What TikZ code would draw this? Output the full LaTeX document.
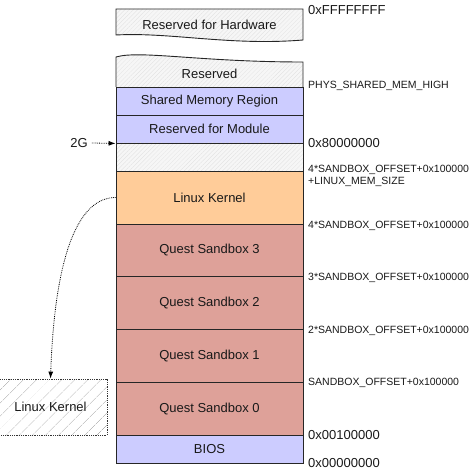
\documentclass[tikz,border=0pt]{standalone}
\usepackage{fontspec}
\setmainfont{Liberation Sans}
\usetikzlibrary{patterns.meta,arrows.meta}
\definecolor{lavender}{HTML}{CCCCFF}
\definecolor{kernelc}{HTML}{FFCC99}
\definecolor{sandboxc}{HTML}{DEA199}
\definecolor{hatchbg}{HTML}{F6F6F6}
\newcommand{\bigtxt}{\fontsize{13bp}{15bp}\selectfont}
\newcommand{\smalltxt}{\fontsize{10.5bp}{12.5bp}\selectfont}
\tikzset{
  region/.style={draw=black!85, line width=0.9bp},
  block/.style={region, minimum width=187bp, font=\bigtxt},
  hatched/.style={preaction={fill=hatchbg}, preaction={pattern={Lines[angle=45,distance=3bp,line width=0.3bp]}, pattern color=black!12}},
  addr/.style={anchor=west, font=\bigtxt},
  saddr/.style={anchor=west, font=\smalltxt, align=left},
  ptr/.style={densely dotted, line width=0.8bp, -{Latex[length=7bp,width=5bp]}}
}
\begin{document}
\begin{tikzpicture}[x=1bp,y=-1bp]
\tikzstyle{every node}+=[inner sep=0pt, text=black!90]
\useasboundingbox (0,0) rectangle (474,474);
% top of memory
\draw [region, hatched] (116,9) -- (303,9) -- (303,40) .. controls (230,46) and (170,32) .. (116,35) -- cycle;
\node [font=\bigtxt] (hw) at (209.5,25) {Reserved for Hardware};
\draw [region, hatched] (116,87) -- (116,57) .. controls (140,50) and (200,62) .. (303,62) -- (303,87);
\node [font=\bigtxt] (resv) at (209.5,74) {Reserved};
% regions
\node [block, fill=lavender, minimum height=28bp] (shm) at (209.5,101) {Shared Memory Region};
\node [block, fill=lavender, minimum height=28bp] (module) at (209.5,129) {Reserved for Module};
\node [block, hatched, minimum height=28bp] (gap) at (209.5,157) {};
\node [block, fill=kernelc, minimum height=53bp] (kernel) at (209.5,197.5) {Linux Kernel};
\node [block, fill=sandboxc, minimum height=52.75bp] (qs3) at (209.5,250.375) {Quest Sandbox 3};
\node [block, fill=sandboxc, minimum height=52.75bp] (qs2) at (209.5,303.125) {Quest Sandbox 2};
\node [block, fill=sandboxc, minimum height=52.75bp] (qs1) at (209.5,355.875) {Quest Sandbox 1};
\node [block, fill=sandboxc, minimum height=52.75bp] (qs0) at (209.5,408.625) {Quest Sandbox 0};
\node [block, fill=lavender, minimum height=28bp] (bios) at (209.5,449) {BIOS};
% addresses
\node [addr] (atop) at (308,10) {0xFFFFFFFF};
\node [saddr] (ashm) at (308,86) {PHYS\_SHARED\_MEM\_HIGH};
\node [addr] (a2g) at (308,143) {0x80000000};
\node [saddr] (alnx) at (308,176) {4*SANDBOX\_OFFSET+0x100000\\+LINUX\_MEM\_SIZE};
\node [saddr] (a4) at (308,226) {4*SANDBOX\_OFFSET+0x100000};
\node [saddr] (a3) at (308,278) {3*SANDBOX\_OFFSET+0x100000};
\node [saddr] (a2) at (308,331) {2*SANDBOX\_OFFSET+0x100000};
\node [saddr] (a1) at (308,383) {SANDBOX\_OFFSET+0x100000};
\node [addr] (abios) at (308,435) {0x00100000};
\node [addr] (azero) at (308,463) {0x00000000};
% 2G marker
\node [font=\bigtxt] (twog) at (79,143) {2G};
\draw [ptr] (twog.east) ++(4,0) -- (module.south west);
% loaded kernel
\node [draw=black!80, densely dotted, line width=0.8bp,
  preaction={fill=white},
  preaction={pattern={Lines[angle=45,distance=10bp,line width=0.4bp]}, pattern color=black!55},
  minimum width=113bp, minimum height=56bp, font=\bigtxt] (sidek) at (50.5,407) {Linux Kernel};
\draw [ptr] (kernel.west) .. controls (80,197.5) and (55,250) .. (sidek.north);
\end{tikzpicture}
\end{document}
